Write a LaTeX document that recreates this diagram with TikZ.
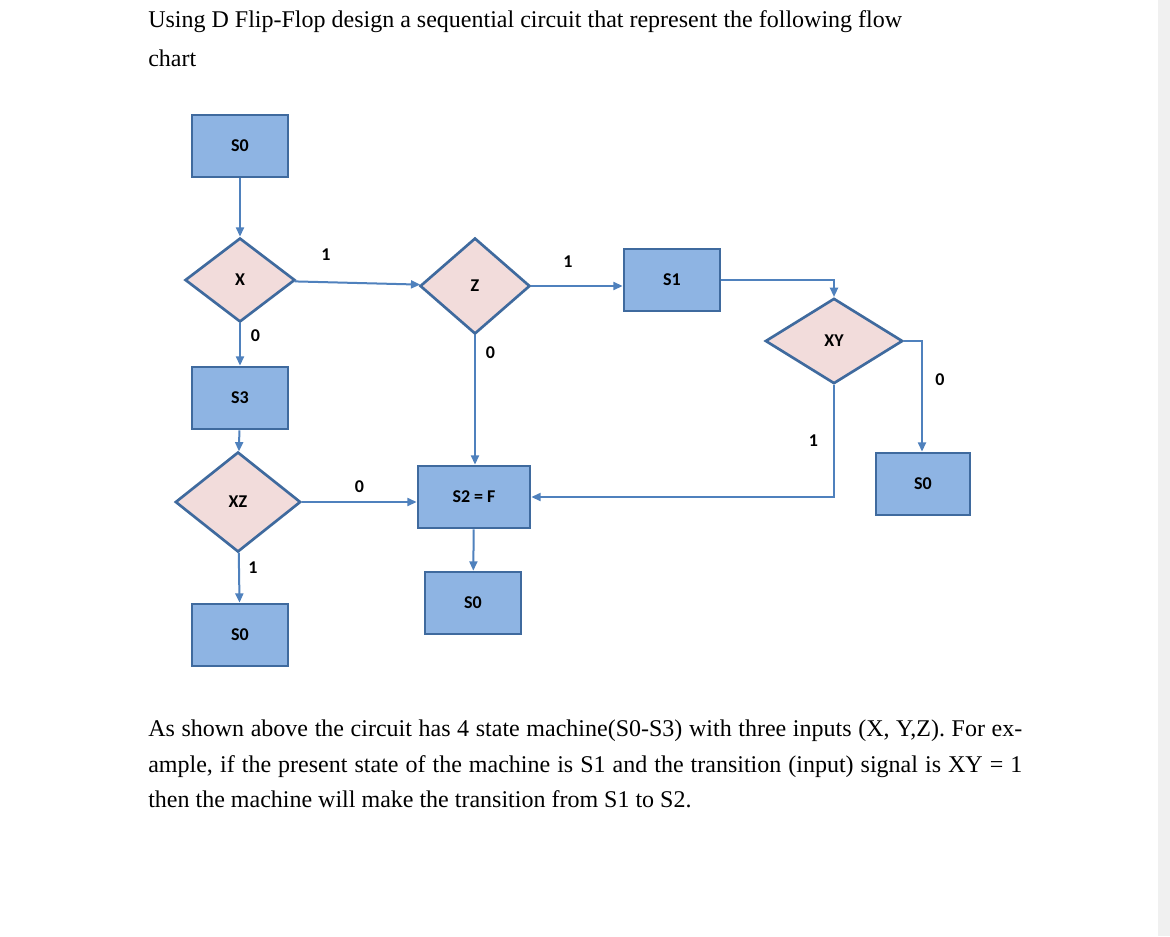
\documentclass[tikz,border=0pt]{standalone}
\usepackage{fontspec}
\setmainfont{Liberation Serif}
\newfontfamily\lab{Carlito}
\usetikzlibrary{shapes.geometric,arrows.meta}
\definecolor{boxfill}{HTML}{8EB4E3}
\definecolor{boxline}{HTML}{3F6A9E}
\definecolor{dfill}{HTML}{F2DCDB}
\definecolor{arr}{HTML}{4F81BD}
\begin{document}
\begin{tikzpicture}[x=0.75pt,y=-0.75pt,
  st/.style={rectangle,draw=boxline,fill=boxfill,line width=2pt,minimum width=72pt,minimum height=46.5pt,font=\lab\bfseries\fontsize{13.5}{15}\selectfont},
  dc/.style={diamond,draw=boxline,fill=dfill,line width=2pt,inner sep=0pt,font=\lab\bfseries\fontsize{13.5}{15}\selectfont},
  lb/.style={font=\lab\bfseries\fontsize{13.5}{15}\selectfont},
  ar/.style={draw=arr,line width=1.5pt,-{Triangle[length=7pt,width=6pt]}},
  tx/.style={anchor=west,font=\fontsize{18}{27}\selectfont,inner sep=0pt}]
\useasboundingbox (0,0) rectangle (1170,936);
\fill[white] (0,0) rectangle (1170,936);
\fill[gray!12] (1158,0) rectangle (1170,936);
\node[tx] (t1) at (148,22) {Using D Flip-Flop design a sequential circuit that represent the following flow};
\node[tx] (t2) at (148,58) {chart};
\node[st] (s0a) at (240,146) {S0};
\node[dc,minimum width=82.5pt,minimum height=63pt] (x) at (240,280) {X};
\node[dc,minimum width=82.5pt,minimum height=72pt] (z) at (475,286) {Z};
\node[st] (s1) at (672,280) {S1};
\node[dc,minimum width=103pt,minimum height=64pt] (xy) at (834,341) {XY};
\node[st,minimum width=70.5pt] (s0b) at (923,484) {S0};
\node[st] (s3) at (240,398) {S3};
\node[dc,minimum width=94pt,minimum height=75pt] (xz) at (238,502) {XZ};
\node[st,minimum width=84pt] (s2) at (474,497) {S2 = F};
\node[st] (s0c) at (473,603) {S0};
\node[st] (s0d) at (240,635) {S0};
\coordinate (c1) at (834,280);
\coordinate (c2) at (922,341);
\coordinate (c3) at (834,497);
\draw[ar] (s0a) -- (x);
\draw[ar] (x) -- node[lb,above=12pt,pos=0.25]{1} (z);
\draw[ar] (z.east) -- node[lb,above=10pt,pos=0.4]{1} (s1.west |- z.east);
\draw[ar] (s1) -- (c1) -- (xy.north);
\draw[ar] (xy.east) -- (c2) -- node[lb,right=6pt,pos=0.35]{0} (s0b.north -| c2);
\draw[ar] (xy.south) -- node[lb,left=8pt,pos=0.5]{1} (c3) -- (s2.east);
\draw[ar] (x) -- node[lb,right=4pt,pos=0.3]{0} (s3);
\draw[ar] (s3) -- (xz);
\draw[ar] (xz.east) -- node[lb,above=3pt,pos=0.5]{0} (s2.west |- xz.east);
\draw[ar] (z) -- node[lb,right=4pt,pos=0.13]{0} (z.south |- s2.north);
\draw[ar] (s2) -- (s0c);
\draw[ar] (xz) -- node[lb,right=3pt,pos=0.3]{1} (s0d);
\node[anchor=north west,text width=655.5pt,align=justify,inner sep=0pt,font=\fontsize{18}{26.5}\selectfont] (p) at (148,720) {As shown above the circuit has 4 state machine(S0-S3) with three inputs (X, Y,Z). For example, if the present state of the machine is S1 and the transition (input) signal is XY = 1 then the machine will make the transition from S1 to S2.};
\end{tikzpicture}
\end{document}
